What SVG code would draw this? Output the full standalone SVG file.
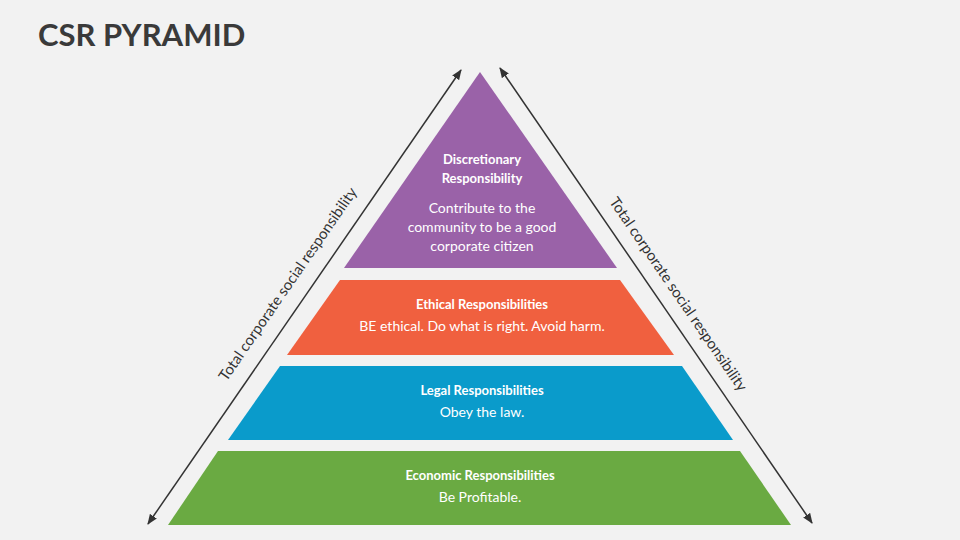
<svg xmlns="http://www.w3.org/2000/svg" width="960" height="540" viewBox="0 0 960 540">
<style>
.t{font-family:Lato,"Open Sans",sans-serif;fill:#fff;text-anchor:middle}
.b{font-weight:bold;font-size:13px}
.n{font-size:14px}
.s{font-family:Lato,"Open Sans",sans-serif;font-size:15px;fill:#333;text-anchor:middle}
</style>
<defs>
<marker id="a" viewBox="0 0 10 10" refX="9" refY="5" markerWidth="7" markerHeight="7" orient="auto-start-reverse"><path d="M0,1 L10,5 L0,9 z" fill="#333"/></marker>
</defs>
<rect width="960" height="540" fill="#f2f2f2"/>
<text x="38" y="46" font-family="Lato,'Open Sans',sans-serif" font-weight="bold" font-size="31" fill="#3a3a3a">CSR PYRAMID</text>
<g id="connectors" stroke="#333" stroke-width="1.5" fill="none">
<line x1="148" y1="524" x2="461" y2="70" marker-start="url(#a)" marker-end="url(#a)"/>
<line x1="500" y1="68" x2="812" y2="523" marker-start="url(#a)" marker-end="url(#a)"/>
</g>
<text class="s" transform="translate(292,287) rotate(-55.4)">Total corporate social responsibility</text>
<text class="s" transform="translate(674,297) rotate(55.6)">Total corporate social responsibility</text>
<g id="discretionary">
<polygon points="480,72 617,268 344,268" fill="#9a62a8"/>
<text class="t b" x="482" y="164">Discretionary</text>
<text class="t b" x="482" y="183">Responsibility</text>
<text class="t n" x="482" y="213">Contribute to the</text>
<text class="t n" x="482" y="232">community to be a good</text>
<text class="t n" x="482" y="251">corporate citizen</text>
</g>
<g id="ethical">
<polygon points="340,280 620,280 674,355 287,355" fill="#f0603f"/>
<text class="t b" x="482" y="309">Ethical Responsibilities</text>
<text class="t n" x="482" y="331">BE ethical. Do what is right. Avoid harm.</text>
</g>
<g id="legal">
<polygon points="280,366 682,366 733,440 228,440" fill="#0a9bcb"/>
<text class="t b" x="482" y="395">Legal Responsibilities</text>
<text class="t n" x="482" y="417">Obey the law.</text>
</g>
<g id="economic">
<polygon points="218,451 740,451 791,525 168,525" fill="#6aaa42"/>
<text class="t b" x="480" y="480">Economic Responsibilities</text>
<text class="t n" x="480" y="502">Be Profitable.</text>
</g>
</svg>
